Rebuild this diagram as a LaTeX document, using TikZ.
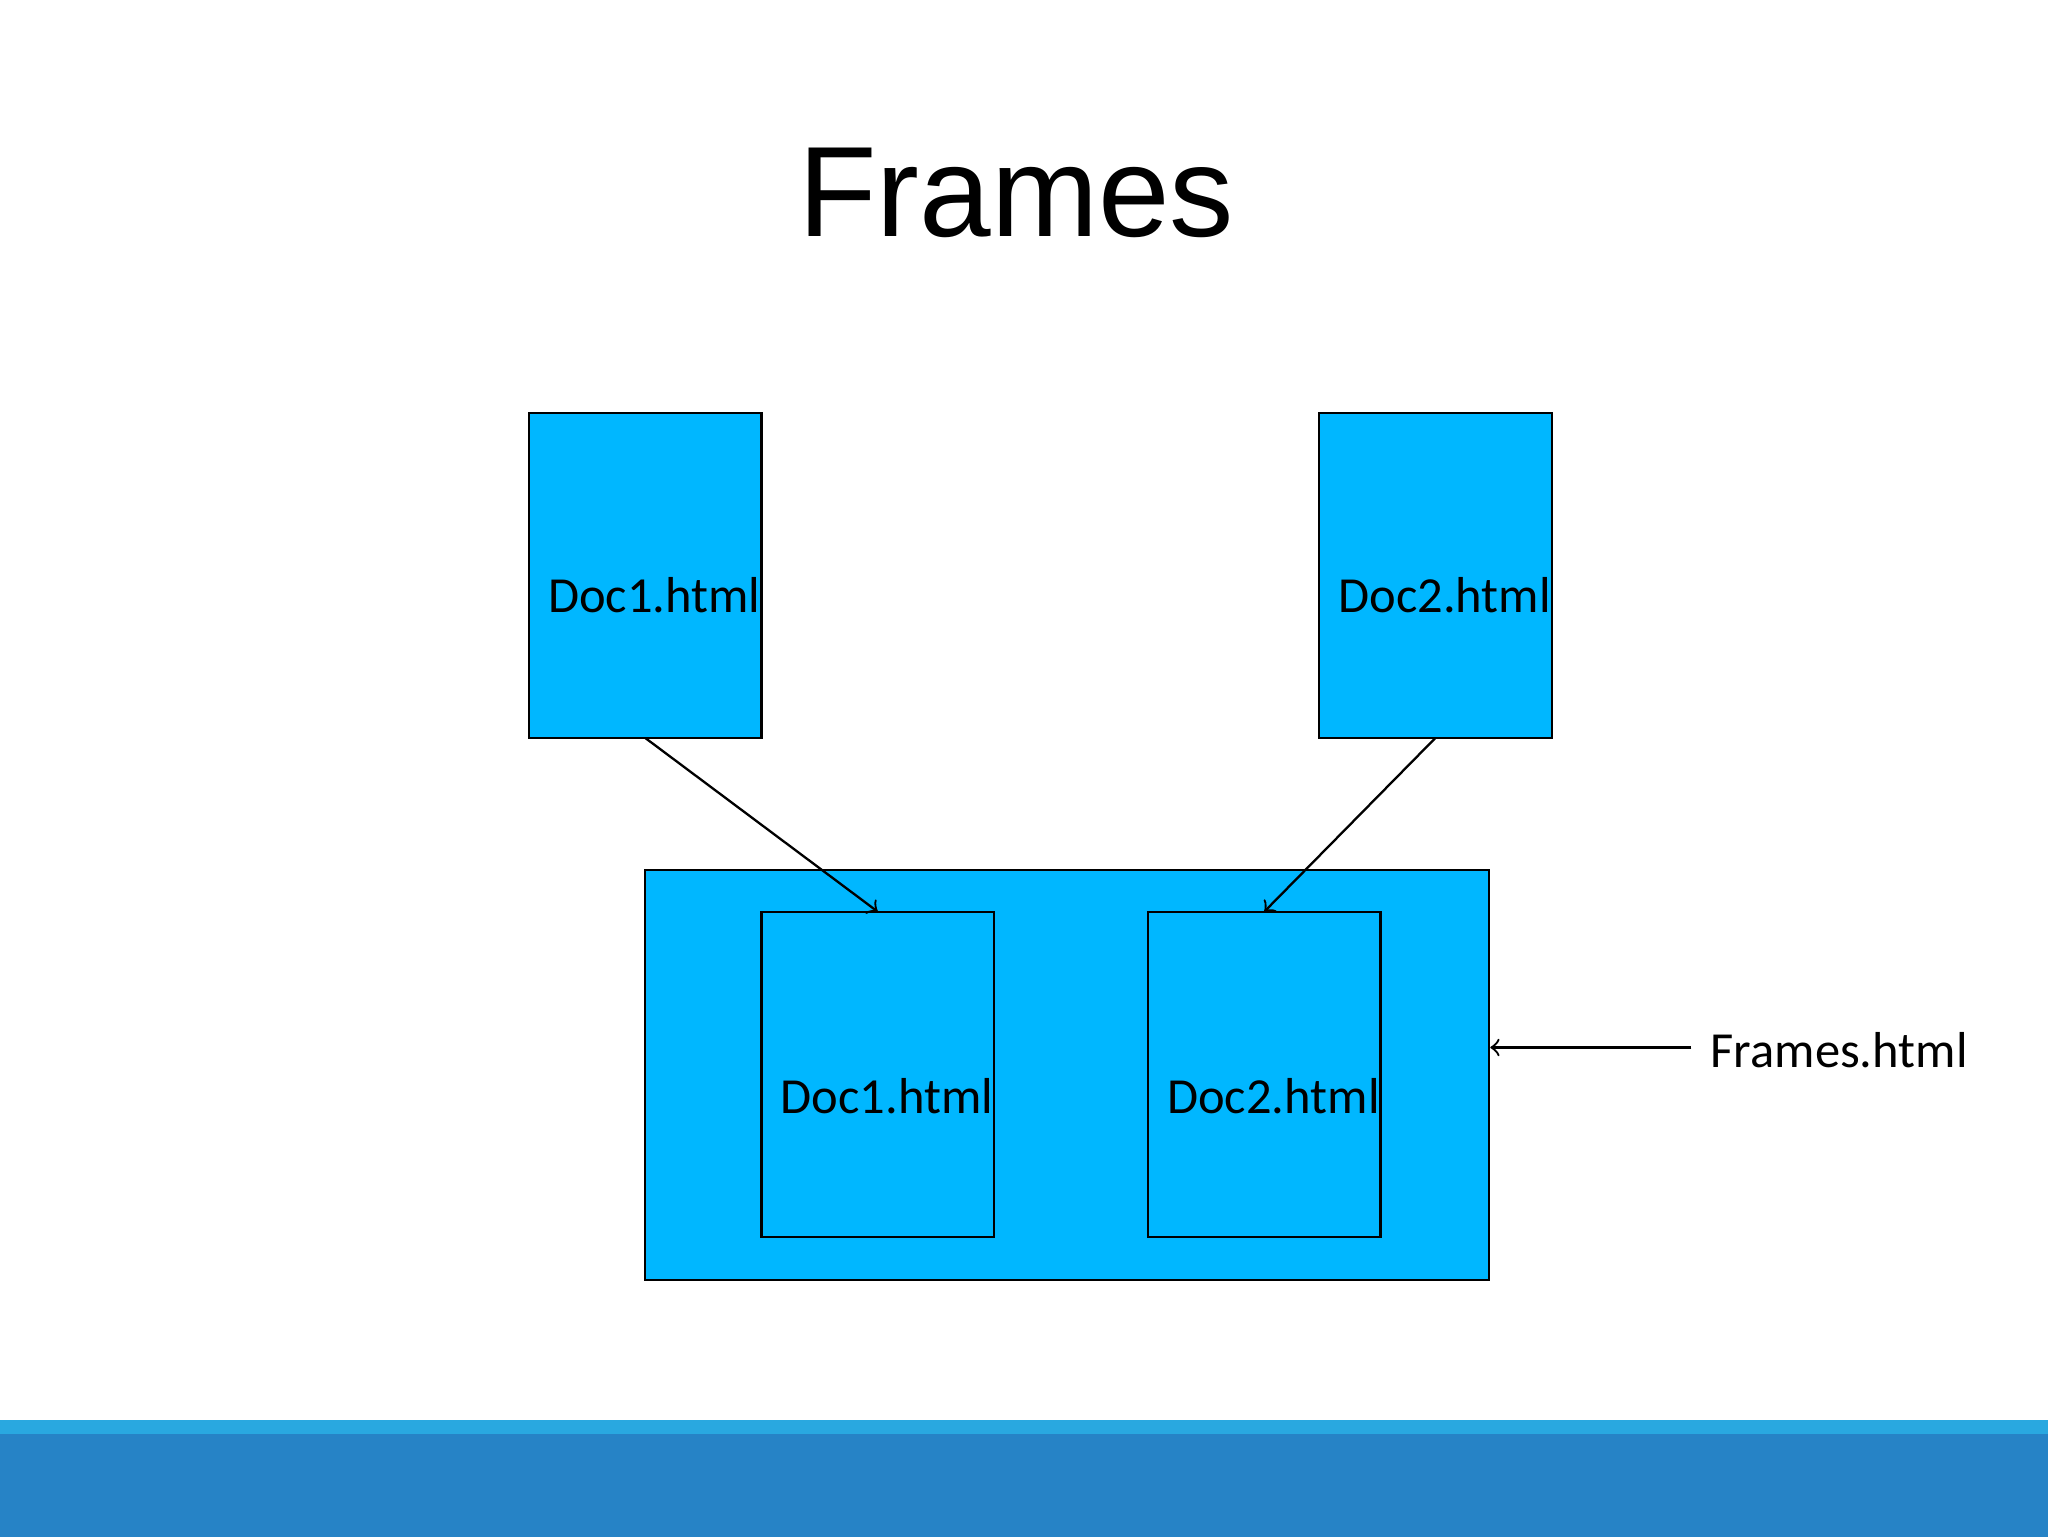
\documentclass[tikz,border=0pt]{standalone}
\usepackage{fontspec}
\setmainfont{Carlito}
\newfontfamily\titlefont{Liberation Sans}
\usetikzlibrary{positioning}
\definecolor{docblue}{HTML}{00B7FF}
\definecolor{barlight}{HTML}{29A8E0}
\definecolor{bardark}{HTML}{2683C6}
\begin{document}
\begin{tikzpicture}[x=0.01cm,y=-0.01cm,
    doc/.style={draw, fill=docblue, line width=0.5pt},
    lbl/.style={anchor=west, inner sep=0pt, font=\fontsize{11}{13}\selectfont}]
\useasboundingbox (0,0) rectangle (1568,1177);
\fill[bardark] (0,1098) rectangle (1568,1177);
\fill[barlight] (0,1087) rectangle (1568,1098);
\node[font=\titlefont\fontsize{28}{32}\selectfont] (title) at (778,148) {Frames};
% top documents
\draw[doc] (405,316) rectangle (583,565);
\coordinate (d1b) at (494,565);
\node[lbl] (d1) at (419,456) {Doc1.html};
\draw[doc] (1010,316) rectangle (1188,565);
\coordinate (d2b) at (1099,565);
\node[lbl] (d2) at (1024,456) {Doc2.html};
% frameset
\draw[doc] (494,666) rectangle (1140,980);
\coordinate (fr) at (1141,802);
\draw[doc] (583,698) rectangle (761,947);
\coordinate (f1t) at (672,698);
\node[lbl] (f1) at (597,839) {Doc1.html};
\draw[doc] (879,698) rectangle (1057,947);
\coordinate (f2t) at (968,698);
\node[lbl] (f2) at (893,839) {Doc2.html};
\node[lbl] (frl) at (1309,804) {Frames.html};
\coordinate (frs) at (1295,802);
\draw[->, line width=0.5pt] (d1b) -- (f1t);
\draw[->, line width=0.5pt] (d2b) -- (f2t);
\draw[->, line width=0.5pt] (frs) -- (fr);
\end{tikzpicture}
\end{document}
